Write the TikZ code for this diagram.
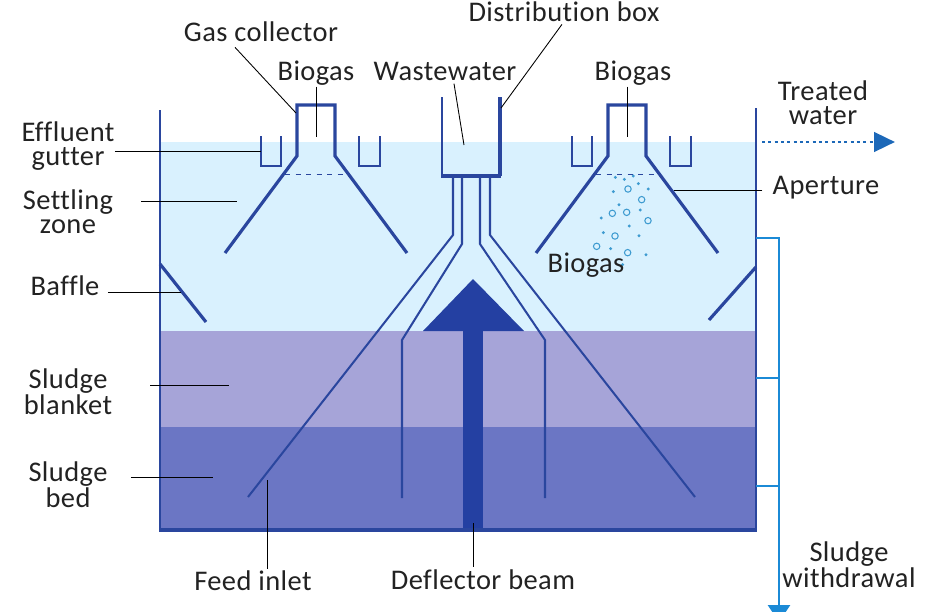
\documentclass[tikz,border=0pt]{standalone}
\usepackage{fontspec}
\setmainfont[Ligatures=NoCommon,LetterSpace=1.5]{Carlito}
\usetikzlibrary{arrows.meta}

\definecolor{water}{HTML}{D9F1FE}
\definecolor{blanket}{HTML}{A6A4D8}
\definecolor{bed}{HTML}{6B76C4}
\definecolor{steel}{HTML}{2A469E}
\definecolor{beam}{HTML}{2440A2}
\definecolor{pipeblue}{HTML}{1B8AD6}
\definecolor{treatedblue}{HTML}{1C68B8}
\definecolor{bubble}{HTML}{3E9BD0}
\definecolor{ink}{HTML}{222222}

\tikzset{
    caption/.style={text=ink,inner sep=0pt,align=center,font=\fontsize{16.2}{13.7}\selectfont},
    leader/.style={draw=black,line width=0.5pt},
    wall/.style={draw=steel,line width=1.8pt},
    side wall/.style={draw=steel,line width=1.6pt},
    thin wall/.style={draw=steel,line width=1.15pt},
    withdrawal/.style={draw=pipeblue,line width=1.7pt},
}

\begin{document}
\begin{tikzpicture}[x=0.02cm,y=-0.02cm]
    \useasboundingbox (0,0) rectangle (938,612);

    % tank contents
    \fill[fill=water] (160,142) rectangle (756,331);
    \fill[fill=blanket] (160,331) rectangle (756,427);
    \fill[fill=bed] (160,427) rectangle (756,530);

    % deflector beam
    \fill[fill=beam] (463,331) rectangle (483,530);
    \fill[fill=beam] (473,279) -- (524,331) -- (423,331) -- cycle;

    % tank
    \draw[side wall] (160,110) -- (160,530);
    \draw[side wall] (756,108) -- (756,530);
    \draw[draw=steel,line width=2pt] (159,530) -- (757,530);

    % baffles
    \draw[wall] (160,264) -- (206,322);
    \draw[wall] (756,267) -- (709,320);

    % gas collectors and gutters
    \foreach \dx in {0,311} {
        \begin{scope}[xshift=\dx*0.02cm]
            \draw[wall] (225,253) -- (297,156) -- (297,105) -- (335,105) -- (335,156) -- (407,253);
            \draw[draw=steel,line width=0.5pt,dashed] (285,174) -- (346,174);
            \draw[draw=steel,line width=1.4pt] (261,136) -- (261,166) -- (281,166) -- (281,136);
            \draw[draw=steel,line width=1.4pt] (359,136) -- (359,166) -- (380,166) -- (380,136);
        \end{scope}
    }

    % distribution box
    \draw[side wall] (442,97) -- (442,176);
    \draw[wall] (500,97) -- (500,176);
    \draw[draw=steel,line width=2.2pt] (441.2,176) -- (500.8,176);
    \draw[thin wall] (453,176) -- (453,235) -- (248,497);
    \draw[thin wall] (462,176) -- (462,244) -- (402,340) -- (402,498);
    \draw[thin wall] (480,176) -- (480,244) -- (545,340) -- (545,498);
    \draw[thin wall] (490,176) -- (490,235) -- (695,497);

    % bubbles
    \foreach \bx/\by in {294/297,335/329,247/370,290/367,354/392,255/438,200/469,293/488} {
        \draw[draw=bubble,line width=0.6pt] (530+\bx/3,90+\by/3) circle (3.2);
    }
    \foreach \bx/\by in {256/262,283/268,310/258,325/281,355/297,250/305,267/344,331/360,214/384,298/408,220/428,327/437,242/476,348/494,278/524} {
        \fill[fill=bubble] (530+\bx/3,90+\by/3) circle (1.6);
    }

    % sludge withdrawal and treated water
    \draw[withdrawal] (756,238) -- (779,238);
    \draw[withdrawal] (756,378) -- (779,378);
    \draw[withdrawal] (756,486) -- (779,486);
    \coordinate (sludgetop) at (779,237);
    \coordinate (sludgeend) at (779,622);
    \draw[withdrawal,-{Triangle[length=0.34cm,width=0.44cm]}] (sludgetop) -- (sludgeend);
    \coordinate (treatedstart) at (762,142);
    \coordinate (treatedend) at (895,142);
    \draw[draw=treatedblue,line width=1.7pt,dash pattern=on 1.7pt off 1.9pt,-{Triangle[length=0.42cm,width=0.39cm]}] (treatedstart) -- (treatedend);

    % labels
    \node[caption] (gascollector) at (261,32) {Gas collector};
    \node[caption] (biogasleft) at (316,73) {Biogas};
    \node[caption] (wastewater) at (445,71) {Wastewater};
    \node[caption] (distribution) at (564,12) {Distribution box};
    \node[caption] (biogasright) at (633,73) {Biogas};
    \node[caption] (treated) at (823,103) {Treated\\water};
    \node[caption] (gutter) at (68,146) {Effluent\\gutter};
    \node[caption] (settling) at (68,212) {Settling\\zone};
    \node[caption] (aperture) at (826,188) {Aperture};
    \node[caption] (baffle) at (65,286) {Baffle};
    \node[caption] (biogasbubbles) at (586,265) {Biogas};
    \node[caption] (sludgeblanket) at (68,392) {Sludge\\blanket};
    \node[caption] (sludgebed) at (68,485) {Sludge\\bed};
    \node[caption] (feed) at (253,581) {Feed inlet};
    \node[caption] (deflector) at (483,580) {Deflector beam};
    \node[caption] (withdrawn) at (849,565) {Sludge\\withdrawal};

    % leader lines
    \coordinate (gascollectorend) at (296,113);
    \coordinate (biogasleftend) at (316,137);
    \coordinate (wastewaterend) at (464,145);
    \coordinate (distributionend) at (501,108);
    \coordinate (biogasrightend) at (627,137);
    \coordinate (gutterend) at (261,151);
    \coordinate (settlingend) at (237,201);
    \coordinate (apertureend) at (674,190);
    \coordinate (baffleend) at (181,292);
    \coordinate (blanketend) at (229,385);
    \coordinate (bedend) at (213,477);
    \coordinate (feedend) at (267,480);
    \coordinate (deflectorend) at (473,523);

    \draw[leader] (gascollector.south) ++(-26,5) -- (gascollectorend);
    \draw[leader] (biogasleft.south) ++(0,1) -- (biogasleftend);
    \draw[leader] (wastewater.south) ++(9,3) -- (wastewaterend);
    \draw[leader] (distribution.south) ++(-2,2) -- (distributionend);
    \draw[leader] (biogasright.south) ++(-6,1) -- (biogasrightend);
    \draw[leader] (gutter.east |- gutterend) -- (gutterend);
    \draw[leader] (settling.east |- settlingend) ++(28,0) -- (settlingend);
    \draw[leader] (aperture.west |- apertureend) ++(-10,0) -- (apertureend);
    \draw[leader] (baffle.east |- baffleend) ++(8,0) -- (baffleend);
    \draw[leader] (sludgeblanket.east |- blanketend) ++(38,0) -- (blanketend);
    \draw[leader] (sludgebed.east |- bedend) ++(23,0) -- (bedend);
    \draw[leader] (feedend |- feed.north) ++(0,-2) -- (feedend);
    \draw[leader] (deflectorend |- deflector.north) ++(0,-3) -- (deflectorend);
\end{tikzpicture}
\end{document}
